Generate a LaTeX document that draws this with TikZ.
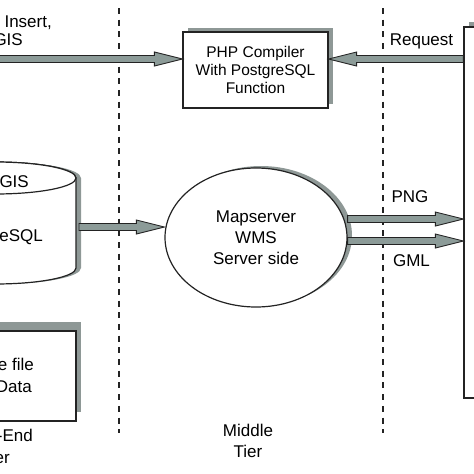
\documentclass[tikz,border=0pt]{standalone}
\usepackage{fontspec}
\setmainfont{Liberation Sans}
\usetikzlibrary{calc}
\usetikzlibrary{positioning}
\usetikzlibrary{shapes.geometric}
\usetikzlibrary{shadows}
\definecolor{linedark}{RGB}{35,35,35}
\definecolor{arrowfill}{RGB}{140,155,152}
\definecolor{shadowgray}{RGB}{142,152,150}
\tikzset{box/.style = {draw=linedark, fill=white, line width=1.2pt, inner sep=0}}
\tikzset{lbl/.style = {font=\fontsize{17}{21}\selectfont, inner sep=0}}
\tikzset{blockarrow/.style = {draw=linedark, fill=arrowfill, line width=0.9pt}}
\tikzset{tierline/.style = {draw=linedark, line width=1.7pt, dash pattern=on 6pt off 5.7pt}}
\tikzset{boxshadow/.style 2 args = {drop shadow={shadow xshift=#1, shadow yshift=#2,
                                    fill=shadowgray, opacity=1}}}
\newcommand{\fatarrow}[2]{%
  \draw[blockarrow] let \p1=(#1), \p2=(#2), \n1={sign(\x2-\x1)} in
    (\x1,\y1+3.5pt) -- ({\x2-(\n1*28pt)},\y1+3.5pt) -- ({\x2-(\n1*28pt)},\y1+7pt)
    -- (\x2,\y1) -- ({\x2-(\n1*28pt)},\y1-7pt) -- ({\x2-(\n1*28pt)},\y1-3.5pt)
    -- (\x1,\y1-3.5pt) -- cycle;}

\begin{document}
\begin{tikzpicture}[x=1pt, y=-1pt]
  \useasboundingbox (0,0) rectangle (474,474);
  % tier borders
  \coordinate (t1top) at (119,8);
  \coordinate (t1bot) at (119,433);
  \coordinate (t2top) at (383,8);
  \coordinate (t2bot) at (383,433);
  \draw[tierline] (t1top) -- (t1bot);
  \draw[tierline] (t2top) -- (t2bot);

  % database drum
  \begin{scope}[xshift=5pt]
    \fill[shadowgray] (-86,178) -- (-86,268)
      arc[start angle=180, end angle=360, x radius=81pt, y radius=16pt] -- (76,178)
      arc[start angle=0, end angle=180, x radius=81pt, y radius=16pt] -- cycle;
  \end{scope}
  \draw[box] (-86,178) -- (-86,268)
    arc[start angle=180, end angle=360, x radius=81pt, y radius=16pt] -- (76,178)
    arc[start angle=0, end angle=180, x radius=81pt, y radius=16pt] -- cycle;
  \draw[box] (-5,178) ellipse [x radius=81pt, y radius=16pt];
  \coordinate (db) at (79,227);

  % boxes
  \node[box, minimum width=145pt, minimum height=76pt, align=center,
        font=\fontsize{15.5}{18}\selectfont, boxshadow={5pt}{4pt}] (php) at (255.5,70)
        {PHP Compiler\\With PostgreSQL\\Function};
  \node[box, ellipse, minimum width=182pt, minimum height=139pt, align=center,
        font=\fontsize{17}{21}\selectfont, boxshadow={5pt}{2pt}] (wms) at (256,237.5)
        {Mapserver\\WMS\\Server side};
  \node[box, minimum width=46pt, minimum height=371pt, boxshadow={5pt}{5pt}] (client) at (487,212.5) {};
  \node[box, minimum width=162pt, minimum height=90pt, boxshadow={5pt}{9pt}] (shp) at (-5,376) {};

  % arrows
  \coordinate (sel) at (-20,59);
  \coordinate (png) at (0,219);
  \coordinate (gml) at (0,241);
  \fatarrow{sel}{sel -| php.west}
  \fatarrow{sel -| client.west}{sel -| php.east}
  \fatarrow{db}{db -| wms.west}
  \fatarrow{png -| wms.east}{png -| client.west}
  \fatarrow{gml -| wms.east}{gml -| client.west}

  % labels
  \node[lbl, anchor=base east] (ins) at (52,27.3) {Insert,};
  \node[lbl, anchor=base east] (gis1) at (23,45) {GIS};
  \node[lbl, anchor=base east] (gis2) at (29,187) {GIS};
  \node[lbl, anchor=base east] (sql) at (43,241.5) {eSQL};
  \node[lbl, anchor=base east] (file) at (34,370) {e file};
  \node[lbl, anchor=base east] (data) at (32,392) {Data};
  \node[lbl, anchor=base east] (end) at (33,441.7) {-End};
  \node[lbl, anchor=base east] (er) at (10,463) {er};
  \node[lbl, anchor=base] (req) at (421.5,45.7) {Request};
  \node[lbl, anchor=base] (pnglbl) at (410,202.7) {PNG};
  \node[lbl, anchor=base] (gmllbl) at (411.5,266.7) {GML};
  \node[lbl, anchor=base] (mid1) at (248,436) {Middle};
  \node[lbl, anchor=base] (mid2) at (248,457.7) {Tier};
\end{tikzpicture}
\end{document}
